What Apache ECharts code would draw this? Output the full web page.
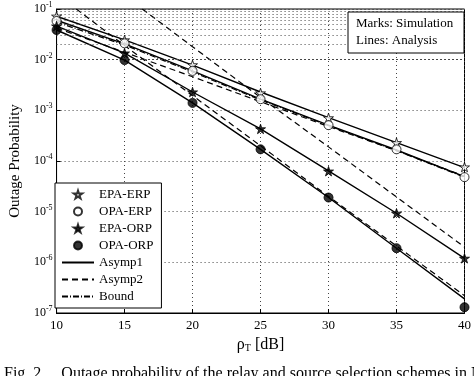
<!DOCTYPE html>
<html>
<head>
<meta charset="utf-8">
<script src="https://cdn.jsdelivr.net/npm/echarts@6/dist/echarts.min.js"></script>
<style>
  html, body { margin: 0; padding: 0; background: #fff; }
  #chart { width: 474px; height: 376px; }
</style>
</head>
<body>
<div id="chart"></div>
<script>
// x axis: rho_T in dB
var snr = [10, 15, 20, 25, 30, 35, 40];

// simulation marks
var epaErpSim = [0.072, 0.0245, 0.0079, 0.0022, 7.1e-4, 2.3e-4, 7.6e-5];
var opaErpSim = [0.058, 0.021, 0.006, 0.00166, 5.1e-4, 1.7e-4, 4.8e-5];
var epaOrpSim = [0.046, 0.0135, 0.0023, 4.3e-4, 6.3e-5, 9.3e-6, 1.2e-6];
var opaOrpSim = [0.0385, 0.0098, 0.0014, 1.7e-4, 1.9e-5, 1.9e-6, 1.3e-7];

// analysis lines
var epaErpAna = [0.072, 0.0245, 0.0078, 0.0023, 7.2e-4, 2.3e-4, 7.4e-5];
var opaErpAna = [0.06, 0.0205, 0.006, 0.00166, 5.1e-4, 1.65e-4, 4.9e-5];
var epaOrpAna = [0.046, 0.0135, 0.0023, 4.3e-4, 6.4e-5, 9.3e-6, 1.2e-6];
var opaOrpAna = [0.0385, 0.0098, 0.0014, 1.7e-4, 1.9e-5, 1.9e-6, 1.9e-7];

// asymptotes (Asymp2) and bound
var erpAsymp2 = [0.042, 0.014, 0.0046, 0.00148, 4.8e-4, 1.6e-4, 5e-5];
var orpAsymp2X = [11.45, 15, 20, 25, 30, 35, 40];
var orpAsymp2 = [0.1, 0.019, 1.95e-3, 2.0e-4, 2.0e-5, 2.1e-6, 2.2e-7];
var steepAsymp2X = [16.3, 20, 25, 30, 35, 40];
var steepAsymp2 = [0.1, 0.018, 1.8e-3, 1.9e-4, 1.95e-5, 2e-6];
var erpBound = [0.055, 0.0195, 0.0057, 0.0016, 5.0e-4, 1.6e-4, 4.8e-5];

var decades = [1e-7, 1e-6, 1e-5, 1e-4, 1e-3, 1e-2];
var minorSteps = [2, 3, 4, 5, 6, 7, 8, 9];

var serif = "'Liberation Serif', 'DejaVu Serif', serif";
var star = "path://M50,0 L61,35 L98,35 L68,57 L79,91 L50,70 L21,91 L32,57 L2,35 L39,35 Z";

function pairs(xs, ys) {
  return xs.map(function (x, i) { return [x, ys[i]]; });
}

var minorLines = [];
decades.forEach(function (d) {
  minorSteps.forEach(function (m) {
    minorLines.push({ yAxis: d * m });
  });
});

function anaLine(name, ys, xs, type, width) {
  return {
    name: name,
    type: "line",
    data: pairs(xs || snr, ys),
    symbol: "none",
    z: 3,
    itemStyle: { color: "#000", opacity: 0 },
    lineStyle: { color: "#000", width: width || 1.4, type: type || "solid" },
    animation: false
  };
}

function simMarks(name, ys, symbol, fill, size) {
  return {
    name: name,
    type: "scatter",
    data: pairs(snr, ys),
    symbol: symbol,
    symbolSize: size,
    symbolKeepAspect: true,
    z: 5,
    itemStyle: { color: fill, borderColor: "#000", borderWidth: 1 },
    animation: false
  };
}

var chart = echarts.init(document.getElementById("chart"));
chart.setOption({
  backgroundColor: "#fff",
  animation: false,
  grid: {
    left: 53, right: 7, top: 9, bottom: 63,
    show: true, borderColor: "#000", borderWidth: 1, backgroundColor: "#fff"
  },
  legend: {
    orient: "vertical",
    left: 55,
    top: 183,
    padding: [5, 8, 5, 6],
    backgroundColor: "#fff",
    borderColor: "#000",
    borderWidth: 1,
    borderRadius: 0,
    itemWidth: 32,
    itemHeight: 8,
    itemGap: 4,
    textStyle: { fontFamily: serif, fontSize: 13, color: "#000" },
    data: ["EPA-ERP", "OPA-ERP", "EPA-ORP", "OPA-ORP", "Asymp1", "Asymp2", "Bound"]
  },
  xAxis: {
    type: "value",
    min: 10,
    max: 40,
    interval: 5,
    name: "ρ{sub|T} [dB]",
    nameLocation: "middle",
    nameGap: 22,
    nameTextStyle: {
      fontFamily: serif, fontSize: 16, color: "#000",
      rich: { sub: { fontFamily: serif, fontSize: 10, verticalAlign: "bottom", padding: [7, 0, 0, 0] } }
    },
    axisLine: { lineStyle: { color: "#000" } },
    axisTick: { inside: true, length: 4, lineStyle: { color: "#000" } },
    axisLabel: { fontFamily: serif, fontSize: 13, color: "#000", margin: 6 },
    splitLine: { show: true, lineStyle: { color: "#444", type: [1, 3], width: 1 } }
  },
  yAxis: {
    type: "log",
    logBase: 10,
    min: 1e-7,
    max: 1e-1,
    name: "Outage Probability",
    nameLocation: "middle",
    nameGap: 33,
    nameTextStyle: { fontFamily: serif, fontSize: 15, color: "#000" },
    axisLine: { lineStyle: { color: "#000" } },
    axisTick: { inside: true, length: 4, lineStyle: { color: "#000" } },
    axisLabel: {
      fontFamily: serif, fontSize: 12, color: "#000", margin: 4,
      formatter: function (v) {
        return "10{s|" + Math.round(Math.log10(v)) + "}";
      },
      rich: { s: { fontFamily: serif, fontSize: 8, verticalAlign: "top", padding: [0, 0, 8, 0] } }
    },
    splitLine: { show: true, lineStyle: { color: "#444", type: [1, 3], width: 1 } }
  },
  graphic: [
    {
      type: "rect",
      shape: { x: 348, y: 12, width: 116, height: 41 },
      style: { fill: "#fff", stroke: "#000", lineWidth: 1 },
      z: 10
    },
    {
      type: "text", left: 356, top: 17, z: 11,
      style: { text: "Marks: Simulation", fontFamily: serif, fontSize: 13, fill: "#000" }
    },
    {
      type: "text", left: 356, top: 34, z: 11,
      style: { text: "Lines: Analysis", fontFamily: serif, fontSize: 13, fill: "#000" }
    },
    {
      type: "text", left: 4, top: 366, z: 11,
      style: {
        text: "Fig. 2.    Outage probability of the relay and source selection schemes in Nakagami fading",
        fontFamily: serif, fontSize: 16, fill: "#000"
      }
    }
  ],
  series: [
    {
      // minor log grid lines
      type: "line",
      data: [],
      silent: true,
      markLine: {
        silent: true,
        symbol: "none",
        animation: false,
        label: { show: false },
        lineStyle: { color: "#444", type: [1, 3], width: 1 },
        data: minorLines
      }
    },
    simMarks("EPA-ERP", epaErpSim, star, "#fff", 10),
    simMarks("OPA-ERP", opaErpSim, "circle", "#fff", 9),
    simMarks("EPA-ORP", epaOrpSim, star, "#000", 10),
    simMarks("OPA-ORP", opaOrpSim, "circle", "#000", 9),
    anaLine("Asymp1", epaErpAna),
    anaLine("Asymp1", opaErpAna),
    anaLine("Asymp1", epaOrpAna),
    anaLine("Asymp1", opaOrpAna),
    anaLine("Asymp2", erpAsymp2, null, [6, 4], 1.2),
    anaLine("Asymp2", orpAsymp2, orpAsymp2X, [6, 4], 1.2),
    anaLine("Asymp2", steepAsymp2, steepAsymp2X, [6, 4], 1.2),
    anaLine("Bound", erpBound, null, [6, 2, 1, 2], 1.2)
  ]
});
</script>
</body>
</html>
